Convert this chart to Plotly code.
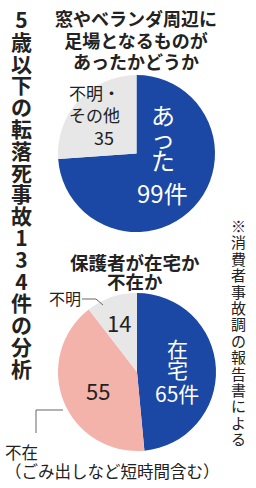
import plotly.graph_objects as go

W, H = 256, 488

# ---- data ----
title_main = "5歳以下の転落死事故134件の分析"
note_text = "※消費者事故調の報告書による"

q1_title = ["窓やベランダ周辺に", "足場となるものが", "あったかどうか"]
q1_labels = ["あった", "不明・その他"]
q1_values = [99, 35]

q2_title = ["保護者が在宅か", "不在か"]
q2_labels = ["在宅", "不在", "不明"]
q2_values = [65, 55, 14]

BLUE = "#1a48a4"
PINK = "#f3b3aa"
GRAY = "#e7e7e7"
TXT = "#222222"
FONT = "Noto Sans CJK JP"


def px(x):
    return x / W


def py(y):
    return 1 - y / H


fig = go.Figure()

fig.add_trace(go.Pie(
    labels=q1_labels, values=q1_values, sort=False, direction="clockwise", rotation=0,
    marker=dict(colors=[BLUE, GRAY], line=dict(width=0)),
    textinfo="none", hoverinfo="skip", showlegend=False,
    domain=dict(x=[px(58), px(215)], y=[py(232), py(75)]),
))
fig.add_trace(go.Pie(
    labels=q2_labels, values=q2_values, sort=False, direction="clockwise", rotation=0,
    marker=dict(colors=[BLUE, PINK, GRAY], line=dict(width=0)),
    textinfo="none", hoverinfo="skip", showlegend=False,
    domain=dict(x=[px(58), px(216)], y=[py(451), py(293)]),
))

ann = []


def add(text, x, y, size, color=TXT, bold=False, xanchor="center"):
    t = f"<b>{text}</b>" if bold else text
    ann.append(dict(text=t, x=px(x), y=py(y), xref="paper", yref="paper",
                    xanchor=xanchor, yanchor="middle", showarrow=False,
                    font=dict(family=FONT, size=size, color=color)))


def stack(lines, x, y_first, step, glyph, color=TXT, bold=False, xanchor="center", align="center"):
    """Multi-line text block: line pitch = step px, glyph size = glyph px."""
    base = step / 1.3
    body = "<br>".join(f"<span style='font-size:{glyph}px'>{s}</span>" for s in lines)
    if bold:
        body = f"<b>{body}</b>"
    yc = y_first + step * (len(lines) - 1) / 2
    ann.append(dict(text=body, x=px(x), y=py(yc), xref="paper", yref="paper",
                    xanchor=xanchor, yanchor="middle", align=align, showarrow=False,
                    font=dict(family=FONT, size=base, color=color)))


# vertical main title
stack(list(title_main), 21, 19, 21.8, 21, bold=True)

# vertical note
stack(list(note_text), 238, 225, 16.4, 15)

# pie 1 title
stack(q1_title, 136, 18, 21.5, 18, bold=True)

# pie 1 labels
stack(list(q1_labels[0]), 163, 115, 22.5, 24, color="white")
add(f"{q1_values[0]}件", 162, 192, 24, color="white")
stack(["不明・", "その他"], 67, 92, 22, 17, xanchor="left", align="left")
add(str(q1_values[1]), 116, 137, 18, xanchor="right")

# pie 2 title
stack(q2_title, 135, 262, 18.5, 18.5, bold=True)

# pie 2 labels
stack(list(q2_labels[0]), 177, 348, 21, 21, color="white")
add(f"{q2_values[0]}件", 177, 393, 21, color="white")
add(str(q2_values[2]), 119, 322, 22)
add(str(q2_values[1]), 98, 390, 22)
add(q2_labels[2], 47, 298, 16, xanchor="left")
stack([q2_labels[1], "（ごみ出しなど短時間含む）"], 3, 452, 19, 16.5, xanchor="left", align="left")

shapes = [
    dict(type="path", xref="paper", yref="paper",
         path=f"M {px(82)} {py(299)} L {px(96)} {py(299)} L {px(103)} {py(305)}",
         line=dict(color="#666666", width=1)),
    dict(type="path", xref="paper", yref="paper",
         path=f"M {px(63)} {py(410)} L {px(36)} {py(410)} L {px(36)} {py(433)}",
         line=dict(color="#666666", width=1)),
]

fig.update_layout(
    width=W, height=H, margin=dict(l=0, r=0, t=0, b=0),
    paper_bgcolor="white", plot_bgcolor="white",
    annotations=ann, shapes=shapes, showlegend=False,
)

fig.write_html("out.html")
